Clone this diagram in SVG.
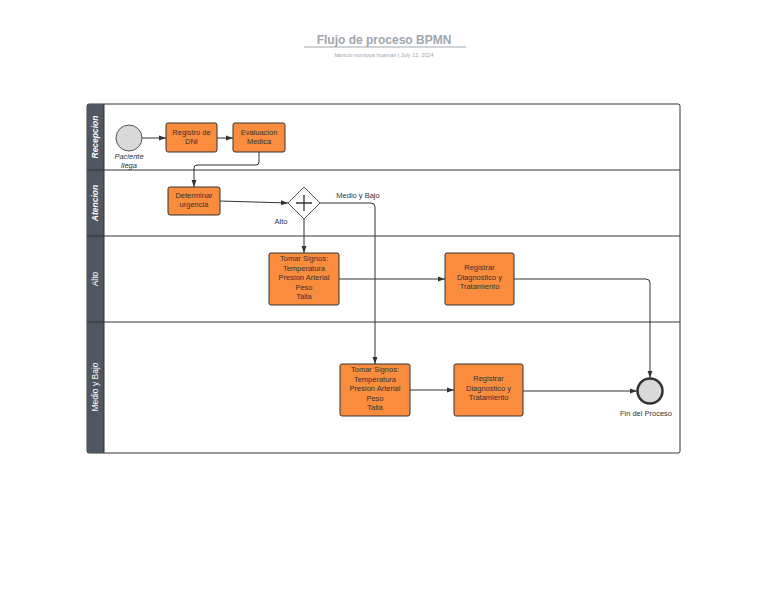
<svg xmlns="http://www.w3.org/2000/svg" width="768" height="594" viewBox="0 0 768 594">
<style>
.t{font-family:"Liberation Sans",Arial,sans-serif;font-size:7.5px;fill:#333;text-anchor:middle}
.task{fill:#fa8c3e;stroke:#333;stroke-width:1}
.lane{font-family:"Liberation Sans",Arial,sans-serif;font-size:8.5px;font-weight:bold;fill:#fff;text-anchor:middle}
.ln{font-weight:normal}
.c{fill:none;stroke:#333;stroke-width:1}
</style>
<defs><marker id="a" viewBox="0 0 10 10" refX="10" refY="5" markerWidth="7" markerHeight="7" orient="auto"><path d="M0,1.5L10,5L0,8.5z" fill="#333"/></marker></defs>
<rect width="768" height="594" fill="#fff"/>
<text x="384" y="44" font-family="Liberation Sans,Arial,sans-serif" font-size="12" font-weight="bold" fill="#a0a6ad" text-anchor="middle">Flujo de proceso BPMN</text>
<line x1="304" y1="47" x2="466" y2="47" stroke="#a0a6ad"/>
<text x="384" y="57" font-family="Liberation Sans,Arial,sans-serif" font-size="5.5" fill="#a0a6ad" text-anchor="middle">fabricio montoya huaman  |  July 12, 2024</text>
<g id="pool">
<rect x="87" y="104" width="593" height="349" rx="2" fill="#fff" stroke="#333"/>
<rect x="87" y="104" width="17" height="349" fill="#4f5762"/>
<line x1="87" y1="170" x2="680" y2="170" stroke="#333"/>
<line x1="87" y1="236" x2="680" y2="236" stroke="#333"/>
<line x1="87" y1="322" x2="680" y2="322" stroke="#333"/>
<line x1="104" y1="104" x2="104" y2="453" stroke="#333"/>
<text class="lane" transform="translate(98,137) rotate(-90)" font-style="italic">Recepcion</text>
<text class="lane" transform="translate(98,203) rotate(-90)" font-style="italic">Atencion</text>
<text class="lane ln" transform="translate(98,279) rotate(-90)">Alto</text>
<text class="lane ln" transform="translate(98,387) rotate(-90)">Medio y Bajo</text>
</g>
<g id="connectors">
<line class="c" x1="142" y1="138" x2="166" y2="138" marker-end="url(#a)"/>
<line class="c" x1="217" y1="138" x2="233" y2="138" marker-end="url(#a)"/>
<path class="c" d="M259,152V162q0,3-3,3H197q-3,0-3,3V187" marker-end="url(#a)"/>
<line class="c" x1="220" y1="201" x2="288" y2="203" marker-end="url(#a)"/>
<line class="c" x1="304" y1="219" x2="304" y2="253" marker-end="url(#a)"/>
<path class="c" d="M320,203H371q4,0,4,4V364" stroke="#999" marker-end="url(#a)"/>
<line class="c" x1="339" y1="279" x2="445" y2="279" stroke="#bbb" marker-end="url(#a)"/>
<path class="c" d="M514,279H646q4,0,4,4V378" stroke="#777" marker-end="url(#a)"/>
<line class="c" x1="410" y1="390" x2="454" y2="390" marker-end="url(#a)"/>
<line class="c" x1="523" y1="391" x2="637" y2="391" marker-end="url(#a)"/>
</g>
<g id="start"><circle cx="129" cy="138" r="13" fill="#d9d9d9" stroke="#555"/>
<text class="t" x="129" y="159" font-style="italic">Paciente</text><text class="t" x="129" y="168" font-style="italic">llega</text></g>
<g id="dni"><rect class="task" x="166" y="123" width="51" height="29" rx="2"/><text class="t" x="191.5" y="135">Registro de</text><text class="t" x="191.5" y="144">DNI</text></g>
<g id="eval"><rect class="task" x="233" y="123" width="52" height="29" rx="2"/><text class="t" x="259" y="135">Evaluacion</text><text class="t" x="259" y="144">Medica</text></g>
<g id="urg"><rect class="task" x="168" y="187" width="52" height="28" rx="2"/><text class="t" x="194" y="198">Determinar</text><text class="t" x="194" y="207">urgencia</text></g>
<g id="gw"><path d="M304,187L320,203L304,219L288,203z" fill="#fff" stroke="#555"/><path d="M304,195V211M296,203H312" stroke="#333" stroke-width="1.3"/>
<text class="t" x="358" y="198">Medio y Bajo</text><text class="t" x="281" y="224">Alto</text></g>
<g id="ts1"><rect class="task" x="269" y="253" width="70" height="52" rx="2"/><text class="t" x="304" y="261">Tomar Signos:</text><text class="t" x="304" y="270.5">Temperatura</text><text class="t" x="304" y="280">Presion Arterial</text><text class="t" x="304" y="289.5">Peso</text><text class="t" x="304" y="299">Talla</text></g>
<g id="rd1"><rect class="task" x="445" y="253" width="69" height="52" rx="2"/><text class="t" x="479.5" y="270">Registrar</text><text class="t" x="479.5" y="279.5">Diagnostico y</text><text class="t" x="479.5" y="289">Tratamiento</text></g>
<g id="ts2"><rect class="task" x="340" y="364" width="70" height="52" rx="2"/><text class="t" x="375" y="372">Tomar Signos:</text><text class="t" x="375" y="381.5">Temperatura</text><text class="t" x="375" y="391">Presion Arterial</text><text class="t" x="375" y="400.5">Peso</text><text class="t" x="375" y="410">Talla</text></g>
<g id="rd2"><rect class="task" x="454" y="364" width="69" height="52" rx="2"/><text class="t" x="488.5" y="381">Registrar</text><text class="t" x="488.5" y="390.5">Diagnostico y</text><text class="t" x="488.5" y="400">Tratamiento</text></g>
<g id="end"><circle cx="650" cy="391" r="12.5" fill="#d9d9d9" stroke="#333" stroke-width="2.5"/><text class="t" x="646" y="416">Fin del Proceso</text></g>
</svg>
